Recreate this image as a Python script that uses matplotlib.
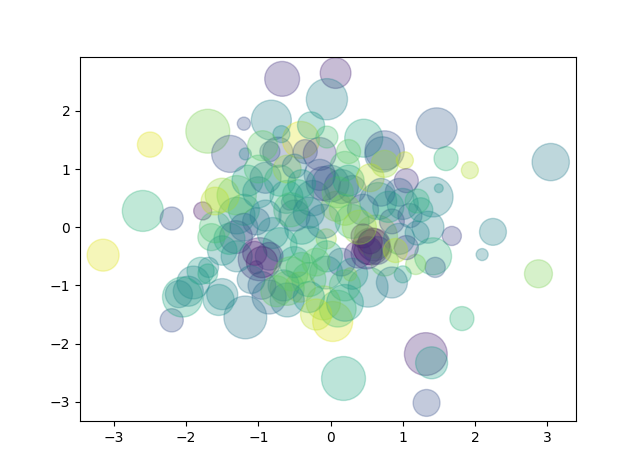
import matplotlib
matplotlib.use('Agg')

import matplotlib.pyplot as plt
import numpy as np

# bubble positions, colour values (0-1 on viridis) and sizes
x = [-3.15, -2.6, -2.2, -2.5, -1.7, -0.67, 0.07, -0.05, 1.47, 1.6,
     1.93, 3.05, 2.25, 2.1, 2.88, 1.68, 1.82, 1.32, 1.4, 1.33,
     0.18, -2.2, -1.18, 1.42, 1.5, 1.35, 1.42, 1.45, 0.46, 0.75,
     0.72, 0.75, 1.03, 1.05, -0.82, -1.2, -1.39, -1.18, -0.73, -0.84,
     -0.41, -0.15, -0.27, -0.68, -0.94, -1.77, -0.57, -0.61, -1.03, -0.98,
     -1.31, -1.03, -0.42, -1.69, -1.65, 0.56, 0.38, 0.63, 0.66, 0.08,
     0.52, 0.27, 1.18, 1.0, 0.85, -0.06, -0.06, 0.0, 0.15, -0.25,
     0.3, -0.1, 0.2, 0.6, 0.52, 0.03, 0.1, -0.1, -0.6, -0.65,
     -1.97, -2.1, -1.9, -2.05, -1.8, -1.7, -1.5, -1.55, -1.3, -1.5,
     -1.4, -1.6, -1.3, -1.2, -1.3, -1.5, -1.15, -1.0, -0.9, -0.7,
     -0.6, -1.0, -0.35, -0.5, 0.25, -0.05, 0.95, 1.0, 0.8, 1.1,
     0.95, 1.05, 0.75, 0.85, 1.2, 1.25, 0.15, 0.3, -0.05, 0.2,
     -0.3, -0.5, -0.3, -0.7, -0.4, -0.1, 0.3, 0.45, 0.2, -0.5,
     -0.8, -0.3, -0.6, -0.85, -0.95, -0.75,
     -0.95, -0.85, -1.05, -0.55, -0.4, -0.2, -0.55, -0.45, -0.3, 0.55,
     0.5, 0.65, 0.45, 0.1, 0.25, 0.55, 0.7, 0.2, -0.2, -1.1,
     -1.2, -0.9, 0.9, 0.4, -0.15, -0.4, 1.2, -1.6]
y = [-0.48, 0.28, 0.15, 1.42, 1.65, 2.55, 2.65, 2.2, 1.7, 1.18,
     0.98, 1.12, -0.08, -0.47, -0.8, -0.15, -1.57, -2.18, -2.33, -3.02,
     -2.6, -1.6, -1.55, 0.52, 0.67, 0.0, -0.5, -0.69, 1.53, 1.32,
     1.25, 1.09, 1.15, 0.8, 1.84, 1.78, 1.26, 1.26, 1.29, 1.3,
     1.5, 1.26, 1.75, 1.6, 1.4, 0.28, 0.43, 0.52, 0.1, -0.55,
     -0.17, -0.69, -1.03, -0.69, -0.17, -0.33, -0.47, -0.16, 0.45, 0.36,
     -1.03, -0.81, -0.64, -0.81, 0.1, -0.2, -0.78, 0.75, 0.7, 0.5,
     0.65, 0.75, 1.05, -0.3, -0.4, -1.62, -1.4, -1.3, -1.05, -1.0,
     -1.1, -1.15, -0.95, -1.2, -0.75, -0.8, -1.15, -1.25, -0.5, -0.4,
     -0.2, 0.0, 0.2, 0.3, 0.55, 0.55, 0.8, 0.6, 0.85, 0.8,
     1.0, 1.0, 1.3, 1.05, 1.3, 1.55, 0.6, 0.4, 0.35, 0.2,
     -0.2, -0.35, -0.6, -0.95, -0.1, 0.3, -0.6, -0.8, -0.5, -1.0,
     -0.9, -0.6, -0.3, -0.3, 0.0, 0.1, 0.1, 0.3, 0.3, 0.2,
     -0.1, -1.2, -1.25, -1.2, -1.0, -1.1,
     -0.6, -0.5, -0.45, -0.8, -0.7, -0.6, 0.3, 0.55, 0.25, -0.25,
     -0.45, -0.4, -0.15, 0.6, 0.8, 0.85, 0.6, -1.3, -1.5, -0.9,
     0.0, 0.2, -0.4, 0.0, 0.9, 0.75, 0.45, 0.45]
colors = [0.95, 0.65, 0.25, 0.95, 0.8, 0.15, 0.1, 0.45, 0.3, 0.65,
          0.88, 0.42, 0.45, 0.45, 0.8, 0.2, 0.65, 0.1, 0.55, 0.25,
          0.6, 0.25, 0.4, 0.45, 0.5, 0.45, 0.65, 0.3, 0.6, 0.25,
          0.35, 0.85, 0.92, 0.15, 0.45, 0.25, 0.25, 0.45, 0.25, 0.3,
          0.95, 0.2, 0.55, 0.5, 0.75, 0.05, 0.3, 0.6, 0.3, 0.1,
          0.15, 0.15, 0.95, 0.45, 0.7, 0.02, 0.1, 0.85, 0.6, 0.85,
          0.45, 0.9, 0.8, 0.6, 0.2, 0.85, 0.45, 0.35, 0.3, 0.4,
          0.25, 0.2, 0.7, 0.1, 0.05, 0.95, 0.7, 0.85, 0.8, 0.45,
          0.45, 0.4, 0.45, 0.6, 0.55, 0.6, 0.45, 0.5, 0.45, 0.5,
          0.6, 0.7, 0.45, 0.6, 0.75, 0.85, 0.55, 0.5, 0.35, 0.6,
          0.85, 0.7, 0.25, 0.4, 0.75, 0.7, 0.3, 0.45, 0.6, 0.3,
          0.45, 0.2, 0.75, 0.4, 0.45, 0.55, 0.3, 0.5, 0.6, 0.7,
          0.7, 0.5, 0.65, 0.6, 0.55, 0.4, 0.65, 0.35, 0.8, 0.35,
          0.5, 0.55, 0.45, 0.35, 0.3, 0.75,
          0.05, 0.2, 0.1, 0.75, 0.7, 0.75, 0.7, 0.65, 0.45, 0.05,
          0.15, 0.2, 0.1, 0.75, 0.6, 0.9, 0.35, 0.55, 0.9, 0.4,
          0.35, 0.45, 0.9, 0.85, 0.3, 0.55, 0.65, 0.9]
sizes = [530, 870, 275, 330, 1000, 630, 490, 880, 870, 300,
         150, 720, 375, 75, 405, 190, 300, 950, 530, 375,
         1000, 280, 950, 830, 40, 530, 710, 210, 750, 800,
         650, 380, 150, 300, 830, 90, 710, 75, 470, 210,
         710, 560, 380, 150, 470, 170, 130, 560, 380, 960,
         560, 90, 470, 210, 380, 710, 380, 960, 710, 470,
         830, 90, 210, 150, 320, 210, 560, 700, 600, 650,
         400, 600, 450, 550, 400, 830, 700, 600, 600, 500,
         470, 380, 560, 830, 380, 200, 500, 500, 500, 450,
         500, 500, 700, 500, 800, 600, 500, 500, 500, 500,
         400, 400, 300, 300, 300, 250, 400, 500, 500, 300,
         500, 300, 400, 500, 300, 300, 400, 500, 500, 500,
         600, 500, 700, 600, 600, 600, 600, 500, 500, 500,
         500, 500, 600, 600, 400, 500,
         500, 400, 300, 600, 500, 400, 600, 500, 500, 300,
         500, 400, 300, 500, 500, 400, 400, 700, 500, 400,
         400, 500, 300, 600, 500, 400, 300, 400]

fig, ax = plt.subplots(figsize=(6.4, 4.73), dpi=100)
ax.scatter(x, y, c=colors, s=sizes, alpha=0.3, cmap='viridis', vmin=0, vmax=1)
ax.set_xlim(-3.47, 3.40)
ax.set_ylim(-3.33, 2.93)

fig.savefig('out.png')
